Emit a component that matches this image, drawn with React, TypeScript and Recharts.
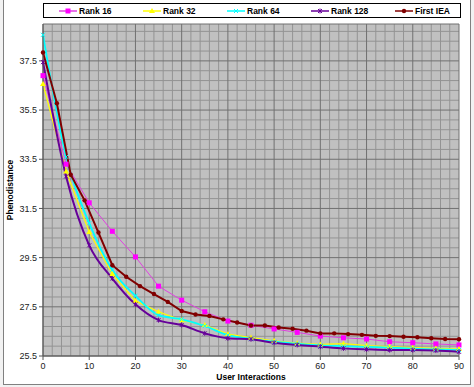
import { LineChart, Line, XAxis, YAxis, CartesianGrid, ReferenceLine } from "recharts";

// x positions of the sampled points
const xByFive = [0, 5, 10, 15, 20, 25, 30, 35, 40, 45, 50, 55, 60, 65, 70, 75, 80, 85, 90];
const xByThree = [
  0, 3, 6, 9, 12, 15, 18, 21, 24, 27, 30, 33, 36, 39, 42, 45, 48, 51, 54, 57, 60, 63, 66, 69, 72, 75, 78, 81, 84,
  87, 90,
];

const rank16 = [36.9, 33.3, 31.73, 30.57, 29.53, 28.34, 27.77, 27.3, 26.92, 26.75, 26.6, 26.46, 26.31, 26.24, 26.19, 26.08, 26.04, 25.99, 25.95];
const rank32 = [36.56, 33.0, 30.54, 28.83, 27.74, 27.3, 26.95, 26.76, 26.39, 26.25, 26.12, 26.02, 25.97, 26.0, 25.92, 25.88, 25.84, 25.81, 25.78];
const rank64 = [38.56, 33.6, 30.9, 29.0, 27.95, 27.16, 26.99, 26.72, 26.35, 26.2, 26.08, 26.0, 25.93, 25.9, 25.87, 25.84, 25.8, 25.77, 25.74];
const rank128 = [37.45, 32.8, 30.0, 28.65, 27.6, 26.96, 26.76, 26.42, 26.22, 26.18, 26.04, 25.95, 25.88, 25.81, 25.77, 25.74, 25.74, 25.72, 25.67];
const firstIEA = [
  37.84, 35.78, 32.87, 31.83, 30.52, 29.19, 28.72, 28.34, 28.02, 27.7, 27.33, 27.19, 27.13, 26.99, 26.86, 26.74,
  26.74, 26.66, 26.61, 26.53, 26.42, 26.42, 26.39, 26.36, 26.32, 26.31, 26.28, 26.26, 26.22, 26.19, 26.18,
];

const xTicks = [0, 10, 20, 30, 40, 50, 60, 70, 80, 90];
const yTicks = [25.5, 27.5, 29.5, 31.5, 33.5, 35.5, 37.5];
const xMinor = [2, 4, 6, 8, 12, 14, 16, 18, 22, 24, 26, 28, 32, 34, 36, 38, 42, 44, 46, 48, 52, 54, 56, 58, 62, 64, 66, 68, 72, 74, 76, 78, 82, 84, 86, 88];
const yMinor = [
  25.9, 26.3, 26.7, 27.1, 27.9, 28.3, 28.7, 29.1, 29.9, 30.3, 30.7, 31.1, 31.9, 32.3, 32.7, 33.1, 33.9, 34.3, 34.7,
  35.1, 35.9, 36.3, 36.7, 37.1, 37.9, 38.3, 38.7,
];

const toPoints = (xs: number[], ys: number[]) => xs.map((x, i) => ({ x, y: ys[i] }));

const squareDot = (p: any) => (
  <rect key={p.index} x={p.cx - 2.5} y={p.cy - 2.5} width={5} height={5} fill="#FF00FF" />
);
const triangleDot = (p: any) => (
  <path key={p.index} d={`M${p.cx},${p.cy - 3}L${p.cx + 3},${p.cy + 2}L${p.cx - 3},${p.cy + 2}Z`} fill="#FFFF00" />
);
const crossDot = (p: any) => (
  <path key={p.index} d={`M${p.cx - 2},${p.cy - 2}L${p.cx + 2},${p.cy + 2}M${p.cx - 2},${p.cy + 2}L${p.cx + 2},${p.cy - 2}`} stroke="#00FFFF" strokeWidth={1} />
);
const starDot = (p: any) => (
  <path key={p.index} d={`M${p.cx - 2},${p.cy - 2}L${p.cx + 2},${p.cy + 2}M${p.cx - 2},${p.cy + 2}L${p.cx + 2},${p.cy - 2}M${p.cx},${p.cy - 2.5}L${p.cx},${p.cy + 2.5}`} stroke="#660099" strokeWidth={1} />
);
const circleDot = (p: any) => <circle key={p.index} cx={p.cx} cy={p.cy} r={2.2} fill="#800000" />;

const series = [
  { name: "Rank 16", color: "#E040E0", width: 1, data: toPoints(xByFive, rank16), dot: squareDot, type: "linear" },
  { name: "Rank 32", color: "#FFFF00", width: 1.2, data: toPoints(xByFive, rank32), dot: triangleDot, type: "linear" },
  { name: "Rank 64", color: "#00FFFF", width: 1.8, data: toPoints(xByFive, rank64), dot: crossDot, type: "monotone" },
  { name: "Rank 128", color: "#660099", width: 2, data: toPoints(xByFive, rank128), dot: starDot, type: "monotone" },
  { name: "First IEA", color: "#800000", width: 2, data: toPoints(xByThree, firstIEA), dot: circleDot, type: "linear" },
];

const font = "'Liberation Sans', Arial, sans-serif";

function LegendBox() {
  return (
    <div
      style={{
        position: "absolute",
        left: 43,
        top: 3,
        width: 418,
        height: 15,
        border: "1px solid #000",
        background: "#fff",
        display: "flex",
        alignItems: "center",
        paddingLeft: 15,
        boxSizing: "border-box",
        fontFamily: font,
        fontWeight: "bold",
        fontSize: 8.5,
        color: "#000",
        whiteSpace: "nowrap",
      }}
    >
      {series.map((s) => (
        <div key={s.name} style={{ display: "flex", alignItems: "center", flexShrink: 0, width: 84 }}>
          <svg width={18} height={8} style={{ marginRight: 2 }}>
            <line x1={0} y1={4} x2={18} y2={4} stroke={s.color} strokeWidth={1.5} />
            {s.dot({ cx: 9, cy: 4, index: 0 })}
          </svg>
          <span>{s.name}</span>
        </div>
      ))}
    </div>
  );
}

export default function App() {
  return (
    <div style={{ position: "absolute", left: 0, top: 0, width: 474, height: 387, background: "#f2f2f2" }}>
      <div
        style={{
          position: "absolute",
          left: 3,
          top: 0,
          width: 468,
          height: 385,
          border: "1px solid #808080",
          borderTop: "none",
          background: "#fff",
          boxSizing: "border-box",
        }}
      />
      <div style={{ position: "absolute", left: 0, top: 0 }}>
        <LineChart width={474} height={387} margin={{ top: 24, right: 15, bottom: 11, left: 0 }}>
          <CartesianGrid fill="#C0C0C0" stroke="none" horizontal={false} vertical={false} />
          {xMinor.map((v) => (
            <ReferenceLine key={"vx" + v} x={v} stroke="#939393" strokeWidth={1} />
          ))}
          {yMinor.map((v) => (
            <ReferenceLine key={"hy" + v} y={v} stroke="#939393" strokeWidth={1} />
          ))}
          {xTicks.map((v) => (
            <ReferenceLine key={"mx" + v} x={v} stroke="#707070" strokeWidth={1} />
          ))}
          {yTicks.concat([39]).map((v) => (
            <ReferenceLine key={"my" + v} y={v} stroke="#707070" strokeWidth={1} />
          ))}
          <XAxis
            dataKey="x"
            type="number"
            domain={[0, 90]}
            ticks={xTicks}
            allowDuplicatedCategory={false}
            height={20}
            tickSize={4}
            tickMargin={3}
            stroke="#555"
            tick={{ fill: "#222", fontSize: 9, fontFamily: font }}
          />
          <YAxis
            type="number"
            domain={[25.5, 39]}
            ticks={yTicks}
            width={43}
            tickSize={4}
            tickMargin={2}
            stroke="#555"
            tickFormatter={(v) => v.toFixed(1)}
            tick={{ fill: "#222", fontSize: 9, fontFamily: font }}
          />
          {series.map((s) => (
            <Line
              key={s.name}
              data={s.data}
              dataKey="y"
              name={s.name}
              type={s.type as any}
              stroke={s.color}
              strokeWidth={s.width}
              dot={s.dot}
              activeDot={false}
              isAnimationActive={false}
            />
          ))}
        </LineChart>
      </div>
      <LegendBox />
      <div
        style={{
          position: "absolute",
          left: 10,
          top: 190,
          transform: "translate(-50%, -50%) rotate(-90deg)",
          fontFamily: font,
          fontWeight: "bold",
          fontSize: 8.5,
          whiteSpace: "nowrap",
        }}
      >
        Phenodistance
      </div>
      <div
        style={{
          position: "absolute",
          left: 251,
          top: 377,
          transform: "translate(-50%, -50%)",
          fontFamily: font,
          fontWeight: "bold",
          fontSize: 8.5,
          whiteSpace: "nowrap",
        }}
      >
        User Interactions
      </div>
    </div>
  );
}
